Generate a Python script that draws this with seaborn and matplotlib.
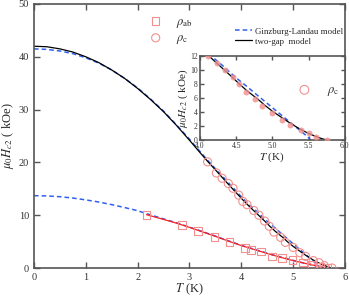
import matplotlib
matplotlib.use("Agg")
import matplotlib.pyplot as plt
import seaborn as sns

sns.set_style("ticks")
plt.rcParams['font.family'] = ['Liberation Serif', 'DejaVu Serif']
plt.rcParams['mathtext.fontset'] = 'stix'

# measured points
t_ab = [2.17, 2.85, 3.16, 3.48, 3.77, 4.07, 4.19, 4.38, 4.59, 4.78, 4.99, 5.19, 5.37, 5.53, 5.66]
h_ab = [10.0, 8.1, 7.0, 5.9, 4.9, 3.8, 3.45, 3.1, 2.2, 1.85, 1.5, 1.05, 0.65, 0.25, 0.1]
t_c = [3.35, 3.52, 3.63, 3.75, 3.84, 3.95, 4.03, 4.11, 4.24, 4.34, 4.45, 4.54,
       4.63, 4.76, 4.85, 5.0, 5.13, 5.24, 5.39, 5.5, 5.6, 5.75]
h_c = [20.1, 18.0, 17.0, 16.0, 15.1, 13.8, 12.6, 12.0, 10.9, 10.0, 8.9, 7.9,
       6.8, 5.8, 4.85, 3.9, 2.9, 2.2, 1.4, 1.0, 0.45, 0.0]

# model curves
gl_c_t = [0, 0.25, 0.5, 0.75, 1.0, 1.25, 1.5, 1.75, 2.0, 2.25, 2.5, 2.75, 3.0, 3.2, 3.35, 3.5,
          3.7, 3.85, 4.03, 4.15, 4.3, 4.45, 4.54, 4.65, 4.8, 4.9, 5.0, 5.1, 5.2, 5.3, 5.4, 5.47, 5.53]
gl_c_h = [41.5, 41.4, 41.1, 40.6, 39.8, 38.8, 37.5, 35.9, 34.1, 32.0, 29.7, 27.1, 24.4, 22.1, 20.4, 18.8,
          16.7, 15.1, 13.2, 12.0, 10.7, 9.3, 8.5, 7.6, 6.3, 5.45, 4.6, 3.75, 2.9, 2.05, 1.2, 0.6, 0.0]
tg_c_t = [0, 0.25, 0.5, 0.75, 1.0, 1.25, 1.5, 1.75, 2.0, 2.25, 2.5, 2.75, 3.0, 3.2, 3.35, 3.5,
          3.7, 3.85, 4.03, 4.15, 4.3, 4.45, 4.54, 4.65, 4.8, 4.9, 5.0, 5.1, 5.2, 5.3, 5.4, 5.5, 5.6, 5.68, 5.75]
tg_c_h = [42.0, 41.9, 41.5, 40.9, 40.0, 38.9, 37.5, 35.9, 34.0, 31.9, 29.6, 27.0, 24.2, 21.9, 20.2, 18.6,
          16.4, 14.8, 12.9, 11.7, 10.3, 8.9, 8.0, 7.0, 5.8, 4.9, 4.1, 3.4, 2.7, 2.05, 1.45, 0.93, 0.5, 0.2, 0.0]
gl_ab_t = [0, 0.25, 0.5, 0.75, 1.0, 1.25, 1.5, 1.75, 2.0, 2.17, 2.5, 2.75, 3.0, 3.25, 3.5,
           3.75, 4.0, 4.25, 4.5, 4.75, 5.0, 5.2, 5.4, 5.55, 5.6]
gl_ab_h = [13.7, 13.65, 13.5, 13.25, 12.9, 12.5, 12.0, 11.45, 10.85, 10.3, 9.3, 8.55, 7.75, 6.9, 6.05,
           5.15, 4.3, 3.55, 2.8, 2.1, 1.45, 0.95, 0.5, 0.15, 0.0]
tg_ab_t = [2.17, 2.5, 2.75, 3.0, 3.25, 3.5, 3.75, 4.0, 4.25, 4.5, 4.75, 5.0, 5.2, 5.4, 5.55, 5.64]
tg_ab_h = [10.1, 9.2, 8.5, 7.7, 6.85, 6.0, 5.1, 4.25, 3.5, 2.75, 2.05, 1.4, 0.95, 0.5, 0.2, 0.0]

pink = "#f29090"
blue = "#3060f0"
red = "#ff2020"
spine = "#555555"


def style(ax, fs):
    for s in ax.spines.values():
        s.set_color(spine)
        s.set_linewidth(1.2)
    ax.tick_params(direction="in", top=True, right=True, labelsize=fs,
                   colors=spine, labelcolor="#333333", length=4, width=1.0)


fig = plt.figure(figsize=(3.49, 2.97), dpi=100)
ax = fig.add_axes([0.0974, 0.0976, 0.891, 0.889])

sns.lineplot(x=gl_c_t, y=gl_c_h, ax=ax, color=blue, linestyle=(0, (3, 2)), lw=1.1,
             sort=False, estimator=None, label="Ginzburg-Landau model")
sns.lineplot(x=tg_c_t, y=tg_c_h, ax=ax, color="black", lw=0.9,
             sort=False, estimator=None, label="two-gap  model")
sns.lineplot(x=gl_ab_t, y=gl_ab_h, ax=ax, color=blue, linestyle=(0, (3, 2)), lw=1.1,
             sort=False, estimator=None, legend=False)
sns.lineplot(x=tg_ab_t, y=tg_ab_h, ax=ax, color=red, lw=0.9,
             sort=False, estimator=None, legend=False)
sq = ax.scatter(t_ab, h_ab, marker="s", s=30, facecolors="none", edgecolors=pink, lw=0.8, zorder=5)
ci = ax.scatter(t_c, h_c, marker="o", s=34, facecolors="none", edgecolors=pink, lw=0.8, zorder=5)

ax.set_xlim(0, 6)
ax.set_ylim(0, 50)
ax.set_xticks(range(0, 7))
ax.set_yticks(range(0, 51, 10))
ax.set_xlabel("$T$ (K)", fontsize=9, labelpad=0)
ax.set_ylabel("$\\mu_0H_{c2}$ ( kOe)", fontsize=9, labelpad=2)
style(ax, 7.5)

lg = ax.legend(loc="upper left", bbox_to_anchor=(0.635, 0.925), frameon=False,
               fontsize=6.4, handlelength=1.9, handletextpad=0.4, labelspacing=0.2,
               borderaxespad=0)
ax.add_artist(lg)
ax.legend([sq, ci], ["$\\rho_{\\rm ab}$", "$\\rho_{\\rm c}$"], loc="upper left",
          bbox_to_anchor=(0.335, 0.975), frameon=False, fontsize=9,
          handletextpad=0.6, labelspacing=0.2, borderaxespad=0)

# inset
ins = fig.add_axes([0.573, 0.5286, 0.415, 0.284])
sns.lineplot(x=gl_c_t, y=gl_c_h, ax=ins, color=blue, linestyle=(0, (3, 2)), lw=1.1,
             sort=False, estimator=None, legend=False)
sns.lineplot(x=tg_c_t, y=tg_c_h, ax=ins, color="black", lw=0.9,
             sort=False, estimator=None, legend=False)
ins.scatter(t_c, h_c, marker="o", s=14, facecolors=pink, edgecolors=pink, lw=0.5, zorder=5, alpha=0.8)
ins.set_xlim(4.0, 6.0)
ins.set_ylim(0, 12)
ins.set_xticks([4.0, 4.5, 5.0, 5.5, 6.0])
ins.set_xticklabels(["4.0", "4.5", "5.0", "5.5", "6.0"])
ins.set_yticks(range(0, 13, 2))
ins.set_xlabel("$T$ (K)", fontsize=8, labelpad=0)
ins.set_ylabel("$\\mu_0H_{c2}$ ( kOe)", fontsize=8, labelpad=0)
style(ins, 5.5)
ins.tick_params(length=3, pad=1.5)
hc = ins.scatter([], [], marker="o", s=40, facecolors="none", edgecolors=pink, lw=0.8)
ins.legend([hc], ["$\\rho_{\\rm c}$"], loc="center left", bbox_to_anchor=(0.6, 0.58),
           frameon=False, fontsize=9, handletextpad=0.8, borderaxespad=0)

fig.savefig("out.png", dpi=100)
